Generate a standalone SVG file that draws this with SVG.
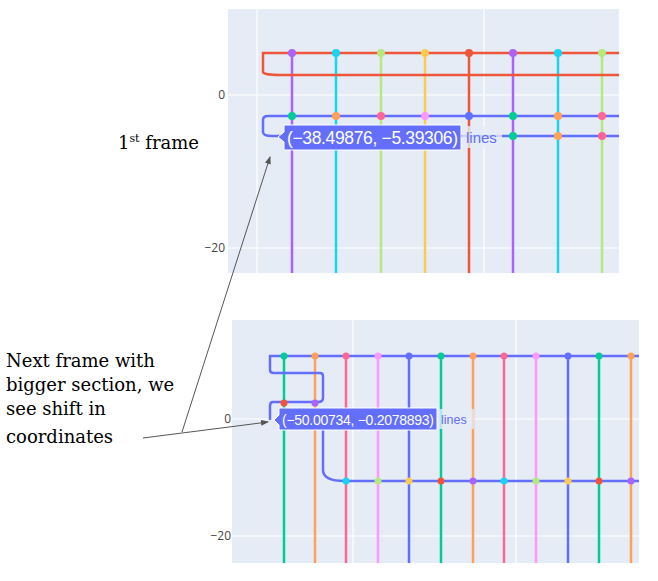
<svg xmlns="http://www.w3.org/2000/svg" width="658" height="581" viewBox="0 0 658 581">
<style>
.bg{fill:#e5ecf6}.g{stroke:#fff;stroke-width:1.2}.tick{font:12px "Open Sans",sans-serif;fill:#444}
.v{stroke-width:2.5;fill:none}.m{stroke:none}
.tt{font:17.5px "Liberation Sans",Arial,sans-serif;fill:#fff}.tt2{font:14px "Liberation Sans",Arial,sans-serif;fill:#fff}
.ann{font:18px "DejaVu Serif",serif;fill:#000}
.arr{stroke:#555;stroke-width:1;fill:none;marker-end:url(#a)}
</style>
<defs><marker id="a" markerWidth="8" markerHeight="8" refX="7" refY="4" orient="auto" markerUnits="userSpaceOnUse"><path d="M0,1 L8,4 L0,7z" fill="#555"/></marker></defs>
<rect width="658" height="581" fill="#fff"/>
<g id="plot1">
<rect class="bg" x="228" y="9" width="391" height="264"/>
<line class="g" x1="257" y1="9" x2="257" y2="273"/><line class="g" x1="484" y1="9" x2="484" y2="273"/>
<line class="g" x1="228" y1="95" x2="619" y2="95"/><line class="g" x1="228" y1="248" x2="619" y2="248"/>
<text class="tick" x="225" y="99" text-anchor="end">0</text><text class="tick" x="225" y="252" text-anchor="end">−20</text>
<g class="v">
<path d="M292,53V273" stroke="#ab63fa"/><path d="M336,53V273" stroke="#19d3f3"/><path d="M381,53V273" stroke="#b6e880"/><path d="M425,53V273" stroke="#fecb52"/><path d="M469,53V273" stroke="#ef553b"/><path d="M513,53V273" stroke="#ab63fa"/><path d="M558,53V273" stroke="#19d3f3"/><path d="M602,53V273" stroke="#b6e880"/>
<path d="M619,53H263V72Q264,75 280,75H619" stroke="#ef553b"/>
<path d="M619,116H268Q263,116 263,120V132Q263,136 272,136H619" stroke="#636efa"/>
</g>
<g class="m">
<circle cx="292" cy="53" r="4" fill="#ab63fa"/><circle cx="336" cy="53" r="4" fill="#19d3f3"/><circle cx="381" cy="53" r="4" fill="#b6e880"/><circle cx="425" cy="53" r="4" fill="#fecb52"/><circle cx="469" cy="53" r="4" fill="#ef553b"/><circle cx="513" cy="53" r="4" fill="#ab63fa"/><circle cx="558" cy="53" r="4" fill="#19d3f3"/><circle cx="602" cy="53" r="4" fill="#b6e880"/>
<circle cx="292" cy="116" r="4" fill="#00cc96"/><circle cx="336" cy="116" r="4" fill="#ffa15a"/><circle cx="381" cy="116" r="4" fill="#ff6692"/><circle cx="425" cy="116" r="4" fill="#ff97ff"/><circle cx="469" cy="116" r="4" fill="#636efa"/><circle cx="513" cy="116" r="4" fill="#00cc96"/><circle cx="558" cy="116" r="4" fill="#ffa15a"/><circle cx="602" cy="116" r="4" fill="#ff6692"/>
<circle cx="513" cy="136" r="4" fill="#00cc96"/><circle cx="558" cy="136" r="4" fill="#ffa15a"/><circle cx="602" cy="136" r="4" fill="#ff6692"/>
</g>
<rect x="462" y="126" width="40" height="22" fill="#e5ecf6" opacity="0.8"/>
<path d="M284,125H461V150H284V142L278,137L284,132Z" fill="#636efa" stroke="#fff" stroke-width="1"/>
<text class="tt" x="287" y="144" textLength="171">(−38.49876, −5.39306)</text>
<text x="466" y="143" font-family="Liberation Sans,Arial,sans-serif" font-size="15" fill="#636efa">lines</text>
</g>
<g id="plot2">
<rect class="bg" x="232" y="320" width="407" height="243"/>
<line class="g" x1="353" y1="320" x2="353" y2="563"/><line class="g" x1="516" y1="320" x2="516" y2="563"/>
<line class="g" x1="232" y1="419" x2="639" y2="419"/><line class="g" x1="232" y1="536" x2="639" y2="536"/>
<text class="tick" x="231" y="423" text-anchor="end" font-size="11">0</text><text class="tick" x="231" y="540" text-anchor="end" font-size="11">−20</text>
<g class="v" stroke-width="2.2">
<path d="M284,356V563" stroke="#00cc96"/><path d="M315,356V563" stroke="#ffa15a"/><path d="M346,356V563" stroke="#ff6692"/><path d="M378,356V563" stroke="#ff97ff"/><path d="M409,356V563" stroke="#636efa"/><path d="M441,356V563" stroke="#00cc96"/><path d="M473,356V563" stroke="#ffa15a"/><path d="M504,356V563" stroke="#ff6692"/><path d="M536,356V563" stroke="#ff97ff"/><path d="M568,356V563" stroke="#636efa"/><path d="M599,356V563" stroke="#00cc96"/><path d="M631,356V563" stroke="#ffa15a"/>
<path d="M639,356H270V370Q270,373 274,373H320Q323,373 323,376V398Q323,402 318,402H273Q270,402 270,406V420" stroke="#636efa"/>
<path d="M323,430V470Q323,481 345,481H639" stroke="#636efa"/>
</g>
<g class="m">
<circle cx="284" cy="356" r="3.5" fill="#00cc96"/><circle cx="315" cy="356" r="3.5" fill="#ffa15a"/><circle cx="346" cy="356" r="3.5" fill="#ff6692"/><circle cx="378" cy="356" r="3.5" fill="#ff97ff"/><circle cx="409" cy="356" r="3.5" fill="#636efa"/><circle cx="441" cy="356" r="3.5" fill="#00cc96"/><circle cx="473" cy="356" r="3.5" fill="#ffa15a"/><circle cx="504" cy="356" r="3.5" fill="#ff6692"/><circle cx="536" cy="356" r="3.5" fill="#ff97ff"/><circle cx="568" cy="356" r="3.5" fill="#636efa"/><circle cx="599" cy="356" r="3.5" fill="#00cc96"/><circle cx="631" cy="356" r="3.5" fill="#ffa15a"/>
<circle cx="284" cy="403" r="3.5" fill="#ef553b"/><circle cx="315" cy="403" r="3.5" fill="#ab63fa"/>
<circle cx="346" cy="481" r="3.5" fill="#19d3f3"/><circle cx="378" cy="481" r="3.5" fill="#b6e880"/><circle cx="409" cy="481" r="3.5" fill="#fecb52"/><circle cx="441" cy="481" r="3.5" fill="#ef553b"/><circle cx="473" cy="481" r="3.5" fill="#ab63fa"/><circle cx="504" cy="481" r="3.5" fill="#19d3f3"/><circle cx="536" cy="481" r="3.5" fill="#b6e880"/><circle cx="568" cy="481" r="3.5" fill="#fecb52"/><circle cx="599" cy="481" r="3.5" fill="#ef553b"/><circle cx="631" cy="481" r="3.5" fill="#ab63fa"/>
</g>
<rect x="438" y="409" width="36" height="20" fill="#e5ecf6" opacity="0.8"/>
<path d="M279,408H437V430H279V425L274,420L279,415Z" fill="#636efa" stroke="#fff" stroke-width="1"/>
<text class="tt2" x="282" y="424.5" textLength="152">(−50.00734, −0.2078893)</text>
<text x="441" y="424" font-family="Liberation Sans,Arial,sans-serif" font-size="12.5" fill="#636efa">lines</text>
</g>
<g id="labels">
<text class="ann" x="118" y="149">1<tspan font-size="11" dy="-7">st</tspan><tspan dy="7"> frame</tspan></text>
<text class="ann" x="6" y="367">Next frame with</text>
<text class="ann" x="6" y="391">bigger section, we</text>
<text class="ann" x="6" y="415">see shift in</text>
<text class="ann" x="6" y="443">coordinates</text>
</g>
<g id="connectors">
<line class="arr" x1="182" y1="432" x2="270" y2="157"/>
<line class="arr" x1="143" y1="438" x2="268" y2="422"/>
</g>
</svg>
